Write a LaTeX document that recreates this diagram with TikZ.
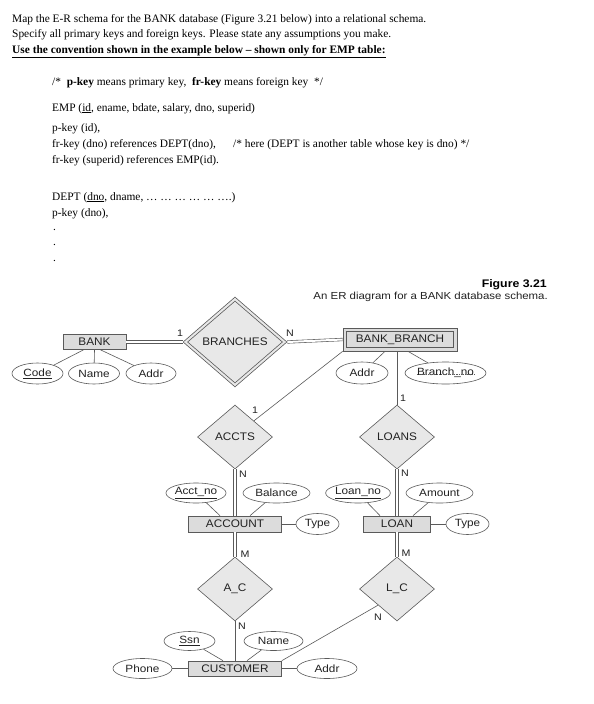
\documentclass[tikz,border=0pt]{standalone}
\usepackage{fontspec}
\setmainfont{Liberation Serif}
\newfontfamily\arialf[FakeStretch=1.07]{Liberation Sans}
\newfontfamily\arialw[FakeStretch=1.12]{Liberation Sans}
\usetikzlibrary{shapes.geometric,calc}
\definecolor{boxfill}{HTML}{DCDCDC}
\definecolor{dfill}{HTML}{E8E8E8}
\definecolor{lc}{HTML}{5A5A5A}
\definecolor{tc}{HTML}{222222}
\begin{document}
\begin{tikzpicture}[x=1pt,y=-1pt,
 txt/.style={anchor=base west, inner sep=0pt, font=\fontsize{11.4}{13}\selectfont, text=black},
 ent/.style={draw=lc, fill=boxfill, minimum height=15pt, inner sep=0pt, font=\arialf\fontsize{11}{13}\selectfont, text=tc, line width=0.7pt},
 rel/.style={diamond, draw=lc, fill=dfill, inner sep=0pt, minimum width=75pt, minimum height=64pt, font=\arialf\fontsize{11}{13}\selectfont, text=tc, line width=0.6pt},
 att/.style={ellipse, draw=lc, fill=white, inner sep=0pt, minimum height=20pt, font=\arialw\fontsize{10.5}{12}\selectfont, text=tc, line width=0.6pt},
 conn/.style={draw=lc, line width=0.6pt},
 dbl/.style={draw=lc, double=white, double distance=2pt, line width=0.6pt},
 card/.style={inner sep=0pt, font=\arialw\fontsize{9.5}{11}\selectfont, text=tc}
]
\useasboundingbox[fill=white] (0,0) rectangle (594,704);

% ---------- text ----------
\node[txt] (l1) at (12,23) {Map the E-R schema for the BANK database (Figure 3.21 below) into a relational schema.};
\node[txt] (l2) at (12,37.5) {Specify all primary keys and foreign keys. Please state any assumptions you make.};
\node[txt] (l3) at (12,53) {\underline{\textbf{Use the convention shown in the example below – shown only for EMP table:}}};
\node[txt] (l4) at (52,85) {/*\ \ \textbf{p-key} means primary key,\ \ \textbf{fr-key} means foreign key\ \ */};
\node[txt] (l5) at (52,111) {EMP (\underline{id}, ename, bdate, salary, dno, superid)};
\node[txt] (l6) at (52,131) {p-key (id),};
\node[txt] (l7) at (52,147) {fr-key (dno) references DEPT(dno),};
\node[txt] (l7b) at (233,147) {/* here (DEPT is another table whose key is dno) */};
\node[txt] (l8) at (52,163) {fr-key (superid) references EMP(id).};
\node[txt] (l9) at (52,200) {DEPT (\underline{dno}, dname, … … … … … ….)};
\node[txt] (l10) at (52,216) {p-key (dno),};
\node[txt] (d1) at (53,230) {.};
\node[txt] (d2) at (53,245) {.};
\node[txt] (d3) at (53,261) {.};

\node[anchor=base east, inner sep=0pt, font=\arialw\bfseries\fontsize{11}{13}\selectfont] (figt) at (547,287) {Figure 3.21};
\node[anchor=base east, inner sep=0pt, font=\arialw\fontsize{10.2}{12}\selectfont, text=tc] (figc) at (548,299) {An ER diagram for a BANK database schema.};

% ---------- entities & relationships ----------
\node[ent, minimum width=63pt] (bank) at (94.5,342) {BANK};
\node[rel, minimum width=104pt, minimum height=90pt] (branches) at (235,342) {};
\node[rel, fill=none, minimum width=95pt, minimum height=82pt] (branchesin) at (235,342) {BRANCHES};
\node[ent, minimum width=114pt, minimum height=23pt] (bbr) at (400,339.5) {};
\node[ent, minimum width=107pt, minimum height=16pt] (bbrin) at (400,339.5) {BANK\_BRANCH};

\node[rel] (accts) at (235,437) {ACCTS};
\node[rel] (loans) at (397,437) {LOANS};
\node[ent, minimum width=93pt, minimum height=16pt] (account) at (235,524) {ACCOUNT};
\node[ent, minimum width=67pt, minimum height=16pt] (loan) at (397,524) {LOAN};
\node[rel] (ac) at (235,589) {A\_C};
\node[rel] (lc) at (397,589) {L\_C};
\node[ent, minimum width=93pt, minimum height=15pt] (customer) at (235,668.5) {CUSTOMER};

% ---------- attributes ----------
\node[att, minimum width=51pt, minimum height=21pt] (code) at (37.5,373.5) {\underline{Code}};
\node[att, minimum width=51pt, minimum height=21pt] (name) at (94,373.5) {Name};
\node[att, minimum width=50pt, minimum height=21pt] (addr) at (151,373.5) {Addr};
\node[att, minimum width=52pt, minimum height=22pt] (bbaddr) at (362,373) {Addr};
\node[att, minimum width=81pt, minimum height=22pt] (brno) at (445.5,373) {};
\node[inner sep=0pt, font=\arialw\fontsize{10.5}{12}\selectfont, text=tc] (brnotxt) at (445.5,373) {Branch\_no};
\draw[lc, dashed, dash pattern=on 1.2pt off 1pt, line width=0.5pt] ([yshift=1.8pt]brnotxt.base west) -- ([yshift=1.8pt]brnotxt.base east);
\node[att, minimum width=60pt] (acctno) at (196,493) {\underline{Acct\_no}};
\node[att, minimum width=67pt] (balance) at (276.5,493) {Balance};
\node[att, minimum width=43pt, minimum height=21pt] (type1) at (317.5,524) {Type};
\node[att, minimum width=58pt] (loanno) at (358,493) {\underline{Loan\_no}};
\node[att, minimum width=67pt] (amount) at (439.5,493) {Amount};
\node[att, minimum width=43pt, minimum height=21pt] (type2) at (467.5,524) {Type};
\node[att, minimum width=51pt, minimum height=19pt] (ssn) at (189.5,641) {\underline{Ssn}};
\node[att, minimum width=59pt, minimum height=19pt] (cname) at (273.5,641) {Name};
\node[att, minimum width=59pt] (phone) at (142.5,668.5) {Phone};
\node[att, minimum width=60pt] (caddr) at (327,668.5) {Addr};

% ---------- connectors ----------
\draw[dbl] (bank.east) -- (branches.west);
\draw[dbl] (branches.east) -- (bbr.west);
\draw[conn] (bbr.south west) -- (accts.north east);
\draw[conn] (bbr.south -| loans.north) -- (loans.north);
\draw[dbl] (accts.south) -- (account.north);
\draw[dbl] (account.south) -- (ac.north);
\draw[dbl] (loans.south) -- (loan.north);
\draw[dbl] (loan.south) -- (lc.north);
\draw[conn] (ac.south) -- (customer.north);
\draw[conn] (lc.south west) -- (customer.north east);

\draw[conn] ([xshift=-11pt]bank.south) -- (code);
\draw[conn] (bank.south) -- (name);
\draw[conn] ([xshift=6pt]bank.south) -- (addr);
\draw[conn] ([xshift=-15pt]bbr.south) -- (bbaddr);
\draw[conn] ([xshift=8pt]bbr.south) -- (brno);
\draw[conn] ([xshift=-15pt]account.north) -- (acctno);
\draw[conn] ([xshift=15pt]account.north) -- (balance);
\draw[conn] (account.east) -- (type1);
\draw[conn] ([xshift=-17pt]loan.north) -- (loanno);
\draw[conn] ([xshift=16pt]loan.north) -- (amount);
\draw[conn] (loan.east) -- (type2);
\draw[conn] ([xshift=-12pt]customer.north) -- (ssn);
\draw[conn] ([xshift=12pt]customer.north) -- (cname);
\draw[conn] (customer.west) -- (phone);
\draw[conn] (customer.east) -- (caddr);

% ---------- cardinalities ----------
\node[card] (k1) at (180,333) {1};
\node[card] (k2) at (290,333) {N};
\node[card] (k3) at (403,398) {1};
\node[card] (k4) at (255,410) {1};
\node[card] (k5) at (243,474) {N};
\node[card] (k6) at (405,473) {N};
\node[card] (k7) at (245,554) {M};
\node[card] (k8) at (406,553) {M};
\node[card] (k9) at (242,626) {N};
\node[card] (k10) at (378,617) {N};
\end{tikzpicture}
\end{document}
